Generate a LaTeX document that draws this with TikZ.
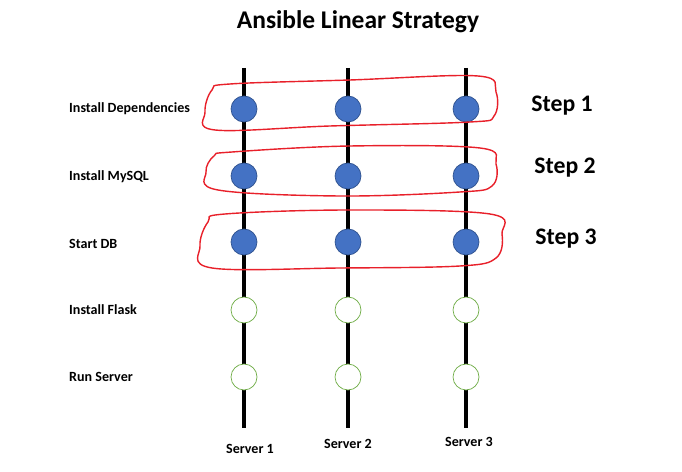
\documentclass[tikz,border=0pt]{standalone}
\usepackage{fontspec}
\setmainfont{Carlito}
\definecolor{dotblue}{HTML}{4472C4}
\definecolor{dotedge}{HTML}{2F528F}
\definecolor{dotgreen}{HTML}{70AD47}
\definecolor{loopred}{HTML}{E8202A}
\tikzset{
  done/.style={shape=circle,draw=dotedge,fill=dotblue,minimum size=0.52cm,inner sep=0pt},
  todo/.style={shape=circle,draw=dotgreen,fill=white,minimum size=0.52cm,inner sep=0pt},
  task/.style={anchor=west,font=\fontsize{8}{10}\selectfont\bfseries},
  steplabel/.style={font=\fontsize{13.5}{16}\selectfont\bfseries},
  server/.style={font=\fontsize{8}{10}\selectfont\bfseries},
  track/.style={line width=2.2pt,black},
  ring/.style={loopred,line width=0.8pt}
}
\begin{document}
\begin{tikzpicture}[x=0.02cm,y=-0.02cm]
	\useasboundingbox (0,0) rectangle (682,472);
	\node[font=\fontsize{14.5}{17}\selectfont\bfseries] (title) at (358,22) {Ansible Linear Strategy};

	% server tracks
	\coordinate (t1) at (244,68);  \coordinate (b1) at (244,428);
	\coordinate (t2) at (348,68);  \coordinate (b2) at (348,428);
	\coordinate (t3) at (466,68);  \coordinate (b3) at (466,428);
	\draw[track] (t1) -- (b1);
	\draw[track] (t2) -- (b2);
	\draw[track] (t3) -- (b3);

	\node[server] (s1) at (250,449) {Server 1};
	\node[server] (s2) at (348,444) {Server 2};
	\node[server] (s3) at (469,442) {Server 3};

	% tasks
	\node[task] (l1) at (63,109) {Install Dependencies};
	\node[task] (l2) at (63,177) {Install MySQL};
	\node[task] (l3) at (63,244) {Start DB};
	\node[task] (l4) at (63,310) {Install Flask};
	\node[task] (l5) at (63,377) {Run Server};

	\foreach \r/\y in {1/109,2/176,3/242}{
		\node[done] (a\r) at (244,\y) {};
		\node[done] (b\r) at (348,\y) {};
		\node[done] (c\r) at (466,\y) {};
	}
	\foreach \r/\y in {4/310,5/377}{
		\node[todo] (a\r) at (244,\y) {};
		\node[todo] (b\r) at (348,\y) {};
		\node[todo] (c\r) at (466,\y) {};
	}

	% steps
	\node[steplabel] (st1) at (562,106) {Step 1};
	\node[steplabel] (st2) at (565,168) {Step 2};
	\node[steplabel] (st3) at (566,239) {Step 3};

	% red loops
	\draw[ring] plot[smooth cycle,tension=0.6] coordinates {(230,84) (350,80) (478,76) (496,92) (494,116) (470,122) (330,126) (215,130) (205,112) (212,90)};
	\draw[ring] plot[smooth cycle,tension=0.6] coordinates {(232,152) (350,146) (480,148) (496,164) (492,186) (460,192) (340,196) (218,190) (206,172) (214,156)};
	\draw[ring] plot[smooth cycle,tension=0.6] coordinates {(225,214) (350,210) (490,214) (502,234) (496,258) (460,266) (340,268) (212,268) (200,246) (208,222)};
\end{tikzpicture}
\end{document}
